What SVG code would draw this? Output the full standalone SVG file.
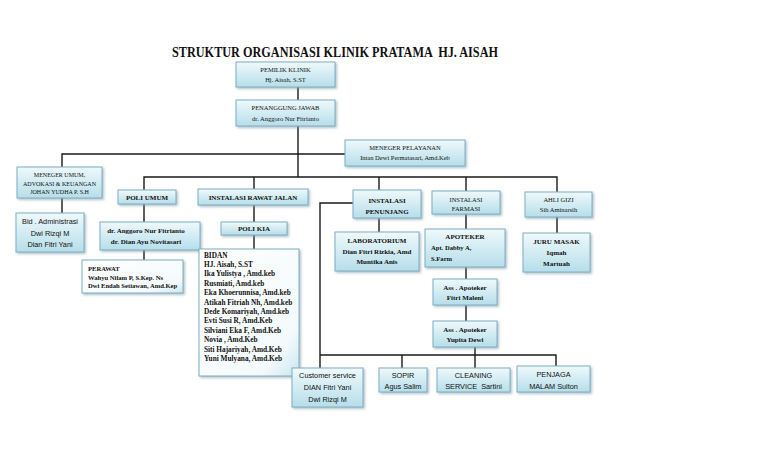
<svg xmlns="http://www.w3.org/2000/svg" width="768" height="466" viewBox="0 0 768 466">
<defs>
<linearGradient id="g" x1="0" y1="0" x2="0" y2="1">
<stop offset="0" stop-color="#eff9fc"/>
<stop offset="1" stop-color="#b6deea"/>
</linearGradient>
<linearGradient id="gw" x1="0" y1="0" x2="1" y2="1">
<stop offset="0" stop-color="#ffffff"/>
<stop offset="0.8" stop-color="#f4fafc"/>
<stop offset="1" stop-color="#cae6ef"/>
</linearGradient>
<filter id="sh" x="-10%" y="-10%" width="130%" height="140%">
<feDropShadow dx="1.5" dy="1.5" stdDeviation="1" flood-color="#7f9aa6" flood-opacity="0.6"/>
</filter>
<style>
.b{fill:url(#g);stroke:#7eaec0;stroke-width:1;filter:url(#sh)}
.bw{fill:url(#gw);stroke:#7eaec0;stroke-width:1;filter:url(#sh)}
.c{fill:none;stroke:#1a1a1a;stroke-width:1.4}
text{font-family:"Liberation Serif","DejaVu Serif",serif;fill:#111}
.t{font-size:6.5px;text-anchor:middle}
.t6{font-size:6px;text-anchor:middle}
.tb{font-size:7px;font-weight:bold;text-anchor:middle}
.l{font-size:7.3px;font-weight:bold}
.ls{font-size:6.6px;font-weight:bold}
.s{font-family:"Liberation Sans","DejaVu Sans",sans-serif;font-size:7.3px;text-anchor:middle}
</style>
</defs>
<rect width="768" height="466" fill="#ffffff"/>
<text x="335" y="57" font-size="14" font-weight="bold" text-anchor="middle" textLength="326" lengthAdjust="spacingAndGlyphs" xml:space="preserve">STRUKTUR ORGANISASI KLINIK PRATAMA  HJ. AISAH</text>
<g id="connectors">
<path class="c" d="M298,87V100"/>
<path class="c" d="M298,126V177"/>
<path class="c" d="M62,167V154H345"/>
<path class="c" d="M62,198V213"/>
<path class="c" d="M144,190V177H557V192"/>
<path class="c" d="M254,177V189"/>
<path class="c" d="M379,177V190"/>
<path class="c" d="M466,177V191"/>
<path class="c" d="M144,204V222"/>
<path class="c" d="M144,250V260"/>
<path class="c" d="M254,205V222"/>
<path class="c" d="M254,235V249"/>
<path class="c" d="M379,218V232"/>
<path class="c" d="M466,214V229"/>
<path class="c" d="M466,267V279"/>
<path class="c" d="M466,305V321"/>
<path class="c" d="M557,217V233"/>
<path class="c" d="M353,203H320V368"/>
<path class="c" d="M320,355H556V366"/>
<path class="c" d="M402,355V368"/>
<path class="c" d="M475,347V368"/>
</g>
<g id="pemilik"><rect class="b" x="236" y="62" width="99" height="25"/>
<text class="t" x="285.5" y="72">PEMILIK KLINIK</text><text class="t" x="285.5" y="82">Hj. Aisah, S.ST</text></g>
<g id="penanggung"><rect class="b" x="236" y="100" width="99" height="26"/>
<text class="t" x="285.5" y="110">PENANGGUNG JAWAB</text><text class="t" x="285.5" y="121">dr. Anggoro Nur Fitrianto</text></g>
<g id="meneger-pelayanan"><rect class="b" x="345" y="140" width="120" height="26"/>
<text class="t" x="405" y="150">MENEGER PELAYANAN</text><text class="t" x="405" y="160">Intan Dewi Permatasari, Amd.Keb</text></g>
<g id="meneger-umum"><rect class="b" x="17" y="167" width="85" height="31"/>
<text class="t6" x="59.5" y="177">MENEGER UMUM,</text><text class="t6" x="59.5" y="185.5">ADVOKASI &amp; KEUANGAN</text><text class="t6" x="59.5" y="194">JOHAN YUDHA P. S.H</text></g>
<g id="bid-administrasi"><rect class="b" x="16" y="213" width="68" height="39"/>
<text class="s" x="50" y="224">Bid . Administrasi</text><text class="s" x="50" y="236">Dwi Rizqi M</text><text class="s" x="50" y="247">Dian Fitri Yani</text></g>
<g id="poli-umum"><rect class="b" x="118" y="190" width="58" height="14"/>
<text class="tb" x="147" y="200">POLI UMUM</text></g>
<g id="rawat-jalan"><rect class="b" x="198" y="189" width="110" height="16"/>
<text class="tb" x="253" y="200">INSTALASI RAWAT JALAN</text></g>
<g id="poli-kia"><rect class="b" x="221" y="222" width="66" height="13"/>
<text class="tb" x="254" y="231">POLI KIA</text></g>
<g id="dokter"><rect class="b" x="100" y="222" width="100" height="28"/>
<text class="tb" x="146" y="233">dr. Anggoro Nur Fitrianto</text><text class="tb" x="146" y="244">dr. Dian Ayu Novitasari</text></g>
<g id="perawat"><rect class="bw" x="82" y="260" width="101" height="33"/>
<text class="ls" x="88" y="271">PERAWAT</text><text class="ls" x="88" y="279.5">Wahyu Nilam P, S.Kep. Ns</text><text class="ls" x="88" y="288">Dwi Endah Setiawan, Amd.Kep</text></g>
<g id="bidan"><rect class="bw" x="199" y="249" width="100" height="127"/>
<text class="l" x="204" y="257.5">BIDAN</text>
<text class="l" x="204" y="266.9">HJ. Aisah, S.ST</text>
<text class="l" x="204" y="276.3">Ika Yulistya , Amd.keb</text>
<text class="l" x="204" y="285.7">Rusmiati, Amd.keb</text>
<text class="l" x="204" y="295.1">Eka Khoerunnisa, Amd.keb</text>
<text class="l" x="204" y="304.5">Atikah Fitriah Nh, Amd.keb</text>
<text class="l" x="204" y="313.9">Dede Komariyah, Amd.keb</text>
<text class="l" x="204" y="323.3">Evti Susi R, Amd.Keb</text>
<text class="l" x="204" y="332.7">Silviani Eka F, Amd.Keb</text>
<text class="l" x="204" y="342.1">Novia , Amd.Keb</text>
<text class="l" x="204" y="351.5">Siti Hajariyah, Amd.Keb</text>
<text class="l" x="204" y="360.9">Yuni Mulyana, Amd.Keb</text></g>
<g id="instalasi-penunjang"><rect class="b" x="353" y="190" width="68" height="28"/>
<text class="tb" x="387" y="203">INSTALASI</text><text class="tb" x="387" y="214">PENUNJANG</text></g>
<g id="instalasi-farmasi"><rect class="b" x="432" y="191" width="68" height="23"/>
<text class="t" x="466" y="201.5">INSTALASI</text><text class="t" x="466" y="210.5">FARMASI</text></g>
<g id="ahli-gizi"><rect class="b" x="525" y="192" width="67" height="25"/>
<text class="t" x="558.5" y="202">AHLI GIZI</text><text class="t" x="558.5" y="212">Sih Aminarsih</text></g>
<g id="laboratorium"><rect class="b" x="335" y="232" width="84" height="39"/>
<text class="tb" x="377" y="243">LABORATORIUM</text><text class="tb" x="377" y="254">Dian Fitri Rizkia, Amd</text><text class="tb" x="377" y="264">Muntika Anis</text></g>
<g id="apoteker"><rect class="b" x="425" y="229" width="80" height="38"/>
<text class="tb" x="465" y="239">APOTEKER</text><text class="ls" x="431" y="250">Apt. Dabby A,</text><text class="ls" x="431" y="261">S.Farm</text></g>
<g id="juru-masak"><rect class="b" x="523" y="233" width="67" height="39"/>
<text class="tb" x="556.5" y="244">JURU MASAK</text><text class="tb" x="556.5" y="255">Iqmah</text><text class="tb" x="556.5" y="266">Martuah</text></g>
<g id="ass-apoteker-1"><rect class="b" x="433" y="279" width="64" height="26"/>
<text class="tb" x="465" y="290">Ass . Apoteker</text><text class="tb" x="465" y="300">Fitri Maleni</text></g>
<g id="ass-apoteker-2"><rect class="b" x="433" y="321" width="64" height="26"/>
<text class="tb" x="465" y="332">Ass . Apoteker</text><text class="tb" x="465" y="342">Yupita Dewi</text></g>
<g id="customer-service"><rect class="b" x="292" y="368" width="71" height="39"/>
<text class="s" x="327.5" y="378">Customer service</text><text class="s" x="327.5" y="390">DIAN Fitri Yani</text><text class="s" x="327.5" y="402">Dwi Rizqi M</text></g>
<g id="sopir"><rect class="b" x="379" y="368" width="48" height="24"/>
<text class="s" x="403" y="378">SOPIR</text><text class="s" x="403" y="389">Agus Salim</text></g>
<g id="cleaning"><rect class="b" x="437" y="368" width="73" height="24"/>
<text class="s" x="473.5" y="378">CLEANING</text><text class="s" x="473.5" y="389" xml:space="preserve">SERVICE  Sartini</text></g>
<g id="penjaga"><rect class="b" x="517" y="366" width="73" height="26"/>
<text class="s" x="553.5" y="377">PENJAGA</text><text class="s" x="553.5" y="389">MALAM Sulton</text></g>
</svg>
